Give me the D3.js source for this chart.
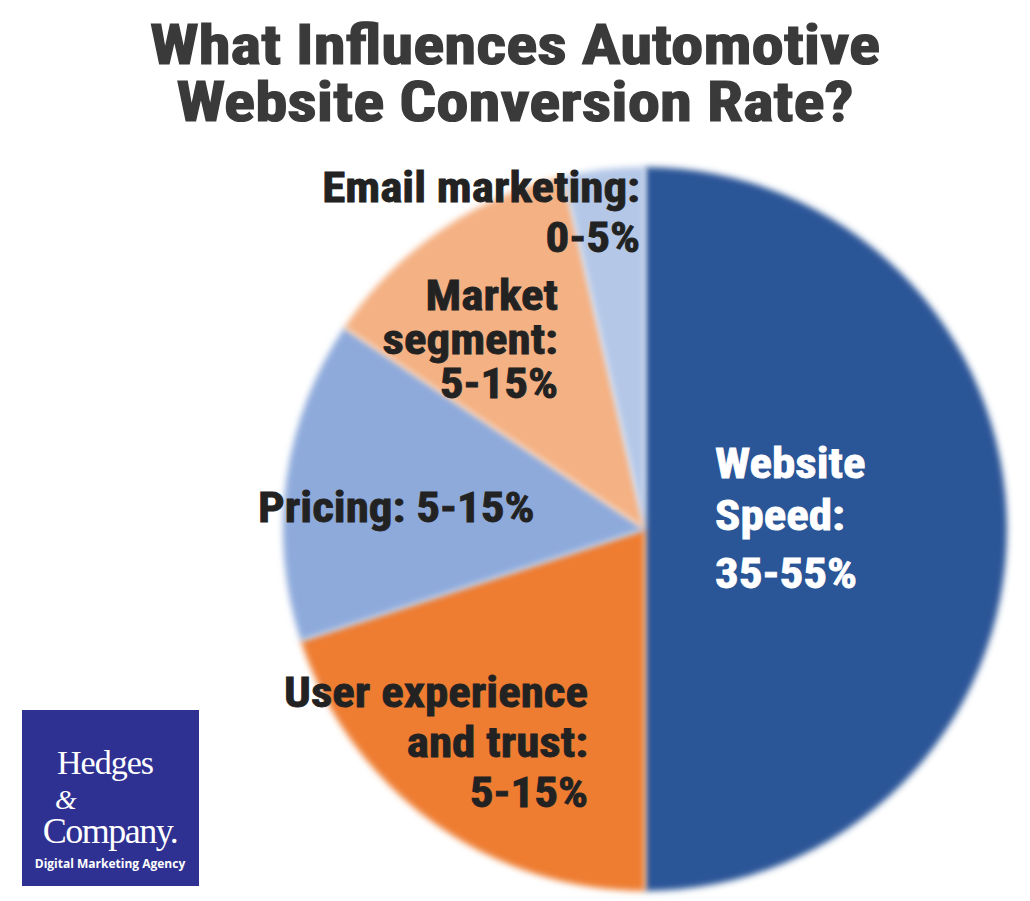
<!DOCTYPE html>
<html><head><meta charset="utf-8">
<script src="https://cdn.jsdelivr.net/npm/d3@7"></script>
<style>body{margin:0;background:#fff}</style></head>
<body><svg id="c" width="1030" height="901"></svg>
<script>
const categories=["Website Speed","User experience and trust","Pricing","Market segment","Email marketing"];
const values=[50,20,14.4,12,3.6];
const colors=["#2b5597","#ee7d31","#8eaadb","#f4b183","#b4c7e7"];
const labelLines=[["Website","Speed:","35-55%"],["User experience","and trust:","5-15%"],["Pricing: 5-15%"],["Market","segment:","5-15%"],["Email marketing:","0-5%"]];
const labelPos=[{x:715,y:478,a:"start",dy:[0,52,110],c:"#fff"},{x:588,y:707,a:"end",dy:[0,50,100],c:"#222"},{x:258,y:522,a:"start",dy:[0],c:"#222"},{x:558,y:310,a:"end",dy:[0,44,88],c:"#222"},{x:640,y:202,a:"end",dy:[0,50],c:"#222"}];
const svg=d3.select("#c");
const font="'Liberation Sans Narrow','Roboto Condensed','Arial Narrow',Arial,sans-serif";
const defs=svg.append("defs");
defs.append("filter").attr("id","blur").append("feGaussianBlur").attr("stdDeviation",3);
function widen(sel,k){const n=sel.node();const w=n.getComputedTextLength();sel.attr("textLength",w*k).attr("lengthAdjust","spacingAndGlyphs");}
[["What Influences Automotive",64],["Website Conversion Rate?",121]].forEach(([t,y])=>{
 const s=svg.append("text").attr("x",515).attr("y",y).attr("text-anchor","middle").attr("font-family",font).attr("font-weight","bold").attr("font-size",56).attr("fill","#3a3a3a").attr("stroke","#3a3a3a").attr("stroke-width",1.2).text(t);widen(s,1.16);});
const pie=d3.pie().sort(null)(values);
const arc=d3.arc().innerRadius(0).outerRadius(362);
const g=svg.append("g").attr("transform","translate(645,529)");
g.selectAll("path").data(pie).join("path").attr("d",arc).attr("fill",(d,i)=>colors[i]).attr("filter","url(#blur)");
labelLines.forEach((lines,i)=>{const p=labelPos[i];
 lines.forEach((t,j)=>{const s=svg.append("text").attr("x",p.x).attr("y",p.y+p.dy[j]).attr("text-anchor",p.a).attr("font-family",font).attr("font-weight","bold").attr("font-size",42).attr("fill",p.c).attr("stroke",p.c).attr("stroke-width",0.8).text(t);widen(s,1.12);});});
svg.append("rect").attr("x",22).attr("y",710).attr("width",177).attr("height",176).attr("fill","#2e3192");
const serif="'Liberation Serif',serif";
svg.append("text").attr("x",105).attr("y",774).attr("text-anchor","middle").attr("font-family",serif).attr("font-size",34).attr("letter-spacing",-1).attr("fill","#fff").text("Hedges");
svg.append("text").attr("x",66).attr("y",809).attr("text-anchor","middle").attr("font-family",serif).attr("font-style","italic").attr("font-size",28).attr("fill","#fff").text("&");
svg.append("text").attr("x",110).attr("y",843).attr("text-anchor","middle").attr("font-family",serif).attr("font-size",36).attr("letter-spacing",-1.5).attr("fill","#fff").text("Company.");
svg.append("text").attr("x",110).attr("y",868).attr("text-anchor","middle").attr("font-family","'Open Sans',sans-serif").attr("font-weight","bold").attr("font-size",12).attr("fill","#fff").text("Digital Marketing Agency");
</script></body></html>
